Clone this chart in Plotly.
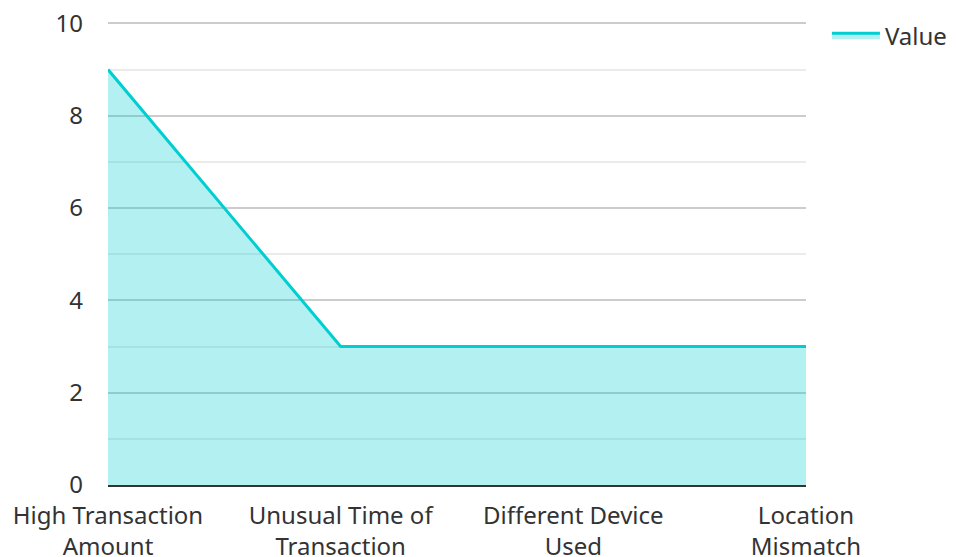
import plotly.graph_objects as go

categories = ["High Transaction<br>Amount", "Unusual Time of<br>Transaction", "Different Device<br>Used", "Location<br>Mismatch"]
values = [9, 3, 3, 3]
series_name = "Value"

fig = go.Figure()
fig.add_trace(go.Scatter(
    x=list(range(len(categories))), y=values, name=series_name,
    mode="lines", fill="tozeroy",
    line=dict(color="#00CED1", width=3),
    fillcolor="rgba(0,206,209,0.3)",
))

fig.update_layout(
    width=956, height=557,
    margin=dict(l=100, r=158, t=14, b=80, autoexpand=False),
    paper_bgcolor="white", plot_bgcolor="white",
    font=dict(family="Noto Sans, Open Sans, sans-serif", size=24, color="#333333"),
    showlegend=True,
    legend=dict(x=1.03, y=1.019, xanchor="left", yanchor="top", font=dict(size=24, color="#333333"),
                bgcolor="rgba(0,0,0,0)", itemwidth=48),
)
fig.update_xaxes(
    tickmode="array", tickvals=list(range(len(categories))), ticktext=categories,
    range=[0, len(categories) - 1], showgrid=False, showline=True, linecolor="#333333", linewidth=2,
    ticks="", zeroline=False, layer="above traces", ticklabelstandoff=8, automargin=False,
    tickfont=dict(size=24), ticklabeloverflow="allow",
)
fig.update_yaxes(
    range=[0, 10.03], dtick=2, showgrid=True, gridcolor="rgba(0,0,0,0.2)", gridwidth=2,
    minor=dict(dtick=1, showgrid=True, gridcolor="rgba(0,0,0,0.08)", gridwidth=2),
    zeroline=False, showline=False, ticks="", layer="above traces", ticklabelstandoff=24,
    automargin=False, tickfont=dict(size=24), ticklabeloverflow="allow",
)
fig.write_html("out.html")
